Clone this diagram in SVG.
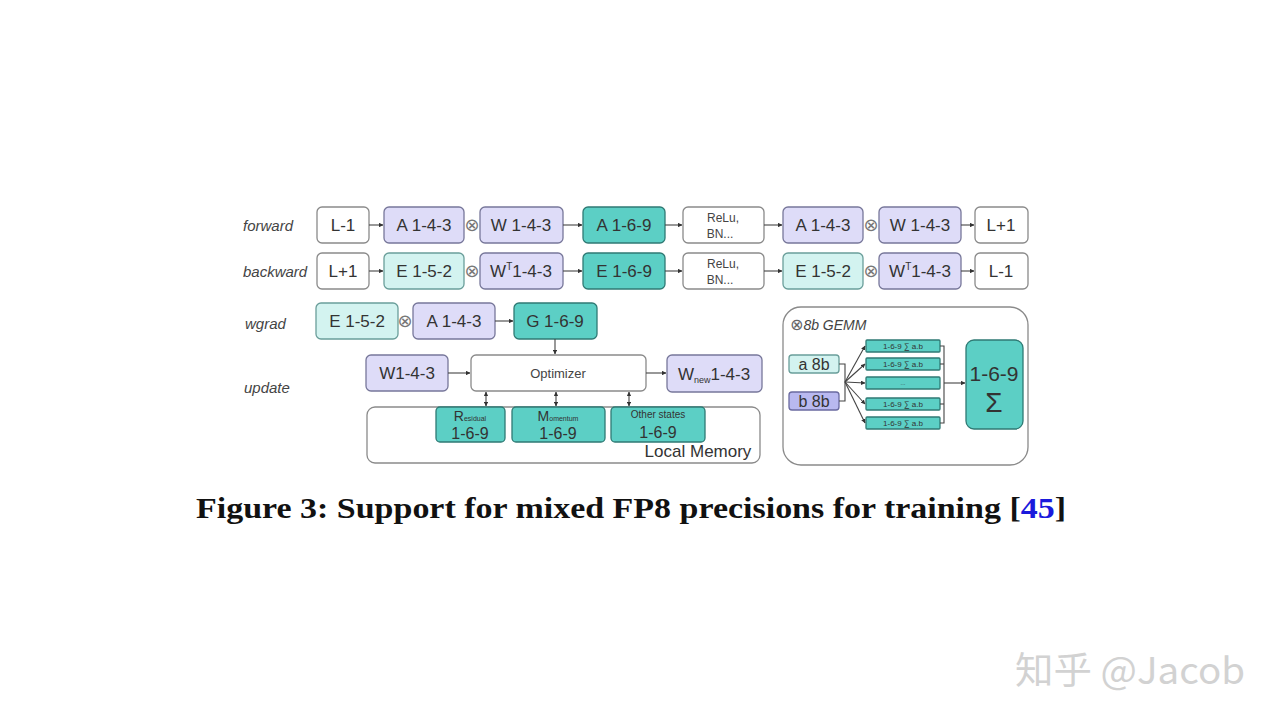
<svg xmlns="http://www.w3.org/2000/svg" width="1280" height="720" viewBox="0 0 1280 720">
<defs>
<marker id="ah" viewBox="0 0 6 6" refX="5.5" refY="3" markerWidth="4" markerHeight="4" orient="auto-start-reverse"><path d="M0,0 L6,3 L0,6 z" fill="#333"/></marker>
<style>
.w{fill:#ffffff;stroke:#8a8a8a;stroke-width:1.3}
.l{fill:#dedcf8;stroke:#77779a;stroke-width:1.3}
.c{fill:#d3f3f0;stroke:#6a9e9a;stroke-width:1.3}
.t{fill:#5ccfc5;stroke:#2f7a74;stroke-width:1.3}
.b{fill:#b9b9f0;stroke:#6a6aa0;stroke-width:1.3}
.tx{font-family:"Liberation Sans",Arial,sans-serif;fill:#333;text-anchor:middle}
.sm{font-family:"Liberation Sans",Arial,sans-serif;fill:#444;text-anchor:middle}
.lab{font-family:"Liberation Sans",Arial,sans-serif;font-style:italic;fill:#444}
.ox{font-family:"DejaVu Sans",sans-serif;font-size:18px;fill:#777;text-anchor:middle}
.bar{font-family:"Liberation Sans",Arial,sans-serif;fill:#333;text-anchor:middle}
.cn{stroke:#444;stroke-width:1.1;fill:none}
</style>
</defs>
<rect width="1280" height="720" fill="#ffffff"/>

<!-- row labels -->
<text class="lab" x="243" y="231" font-size="15">forward</text>
<text class="lab" x="243" y="277" font-size="15">backward</text>
<text class="lab" x="245" y="329" font-size="15">wgrad</text>
<text class="lab" x="244" y="393" font-size="15">update</text>

<!-- forward row -->
<g id="f-l1"><rect class="w" x="317" y="207" width="52" height="36" rx="5"/><text class="tx" x="343" y="231" font-size="17">L-1</text></g>
<g id="f-a143"><rect class="l" x="384" y="207" width="80" height="36" rx="5"/><text class="tx" x="424" y="231" font-size="17">A 1-4-3</text></g>
<g id="f-w143"><rect class="l" x="480" y="207" width="83" height="36" rx="5"/><text class="tx" x="521" y="231" font-size="17">W 1-4-3</text></g>
<g id="f-a169"><rect class="t" x="583" y="207" width="82" height="36" rx="5"/><text class="tx" x="624" y="231" font-size="17">A 1-6-9</text></g>
<g id="f-relu"><rect class="w" x="683" y="207" width="81" height="36" rx="5"/><text class="sm" x="723" y="222" font-size="12">ReLu,</text><text class="sm" x="720" y="238" font-size="12">BN...</text></g>
<g id="f-a143b"><rect class="l" x="783" y="207" width="80" height="36" rx="5"/><text class="tx" x="823" y="231" font-size="17">A 1-4-3</text></g>
<g id="f-w143b"><rect class="l" x="879" y="207" width="82" height="36" rx="5"/><text class="tx" x="920" y="231" font-size="17">W 1-4-3</text></g>
<g id="f-lp1"><rect class="w" x="975" y="207" width="53" height="36" rx="5"/><text class="tx" x="1001" y="231" font-size="17">L+1</text></g>

<!-- backward row -->
<g id="b-lp1"><rect class="w" x="317" y="253" width="52" height="36" rx="5"/><text class="tx" x="343" y="277" font-size="17">L+1</text></g>
<g id="b-e152"><rect class="c" x="384" y="253" width="80" height="36" rx="5"/><text class="tx" x="424" y="277" font-size="17">E 1-5-2</text></g>
<g id="b-wt143"><rect class="l" x="480" y="253" width="83" height="36" rx="5"/><text class="tx" x="521" y="277" font-size="17">W<tspan font-size="10" dy="-7">T</tspan><tspan dy="7">1-4-3</tspan></text></g>
<g id="b-e169"><rect class="t" x="583" y="253" width="82" height="36" rx="5"/><text class="tx" x="624" y="277" font-size="17">E 1-6-9</text></g>
<g id="b-relu"><rect class="w" x="683" y="253" width="81" height="36" rx="5"/><text class="sm" x="723" y="268" font-size="12">ReLu,</text><text class="sm" x="720" y="284" font-size="12">BN...</text></g>
<g id="b-e152b"><rect class="c" x="783" y="253" width="80" height="36" rx="5"/><text class="tx" x="823" y="277" font-size="17">E 1-5-2</text></g>
<g id="b-wt143b"><rect class="l" x="879" y="253" width="82" height="36" rx="5"/><text class="tx" x="920" y="277" font-size="17">W<tspan font-size="10" dy="-7">T</tspan><tspan dy="7">1-4-3</tspan></text></g>
<g id="b-l1"><rect class="w" x="975" y="253" width="53" height="36" rx="5"/><text class="tx" x="1001" y="277" font-size="17">L-1</text></g>

<!-- wgrad row -->
<g id="g-e152"><rect class="c" x="316" y="303" width="82" height="36" rx="5"/><text class="tx" x="357" y="327" font-size="17">E 1-5-2</text></g>
<g id="g-a143"><rect class="l" x="413" y="303" width="82" height="36" rx="5"/><text class="tx" x="454" y="327" font-size="17">A 1-4-3</text></g>
<g id="g-g169"><rect class="t" x="514" y="303" width="83" height="36" rx="5"/><text class="tx" x="555" y="327" font-size="17">G 1-6-9</text></g>

<!-- update row -->
<g id="local-memory"><rect class="w" x="367" y="407" width="393" height="56" rx="8"/><text class="tx" x="698" y="457" font-size="17">Local Memory</text></g>
<g id="u-w143"><rect class="l" x="366" y="355" width="82" height="36" rx="5"/><text class="tx" x="407" y="379" font-size="17">W1-4-3</text></g>
<g id="optimizer"><rect class="w" x="471" y="355" width="175" height="36" rx="5"/><text class="sm" x="558" y="378" font-size="13">Optimizer</text></g>
<g id="u-wnew"><rect class="l" x="667" y="355" width="95" height="37" rx="5"/><text class="tx" x="714" y="380" font-size="17">W<tspan font-size="9" dy="3">new</tspan><tspan dy="-3">1-4-3</tspan></text></g>
<g id="residual"><rect class="t" x="436" y="407" width="69" height="35" rx="4"/><text class="tx" x="470" y="421" font-size="14">R<tspan font-size="7">esidual</tspan></text><text class="tx" x="470" y="439" font-size="16">1-6-9</text></g>
<g id="momentum"><rect class="t" x="512" y="407" width="93" height="35" rx="4"/><text class="tx" x="558" y="421" font-size="14">M<tspan font-size="7">omentum</tspan></text><text class="tx" x="558" y="439" font-size="16">1-6-9</text></g>
<g id="other-states"><rect class="t" x="611" y="407" width="94" height="35" rx="4"/><text class="tx" x="658" y="418" font-size="10">Other states</text><text class="tx" x="658" y="438" font-size="16">1-6-9</text></g>

<!-- GEMM panel -->
<g id="gemm">
<rect class="w" x="783" y="307" width="245" height="158" rx="18"/>
<text class="lab" x="790" y="330" font-size="14"><tspan font-family="DejaVu Sans" font-style="normal" font-size="16" fill="#666">⊗</tspan>8b GEMM</text>
</g>
<g id="a8b"><rect class="c" x="789" y="355" width="50" height="18" rx="3"/><text class="tx" x="814" y="370" font-size="16">a 8b</text></g>
<g id="b8b"><rect class="b" x="789" y="392" width="50" height="18" rx="3"/><text class="tx" x="814" y="407" font-size="16">b 8b</text></g>
<g id="bar1"><rect class="t" x="866" y="340" width="74" height="12" rx="1"/><text class="bar" x="903" y="349" font-size="8">1-6-9 ∑ a.b</text></g>
<g id="bar2"><rect class="t" x="866" y="358" width="74" height="12" rx="1"/><text class="bar" x="903" y="367" font-size="8">1-6-9 ∑ a.b</text></g>
<g id="bar3"><rect class="t" x="866" y="377" width="74" height="12" rx="1"/><text class="bar" x="903" y="385" font-size="6">...</text></g>
<g id="bar4"><rect class="t" x="866" y="398" width="74" height="12" rx="1"/><text class="bar" x="903" y="407" font-size="8">1-6-9 ∑ a.b</text></g>
<g id="bar5"><rect class="t" x="866" y="417" width="74" height="12" rx="1"/><text class="bar" x="903" y="426" font-size="8">1-6-9 ∑ a.b</text></g>
<g id="sum"><rect class="t" x="966" y="340" width="57" height="89" rx="8"/><text class="tx" x="994" y="381" font-size="21">1-6-9</text><text class="tx" x="994" y="412" font-size="28" font-family="'Liberation Serif',serif">Σ</text></g>

<!-- ⊗ operators -->
<text class="ox" x="472" y="231">⊗</text>
<text class="ox" x="871" y="231">⊗</text>
<text class="ox" x="472" y="277">⊗</text>
<text class="ox" x="871" y="277">⊗</text>
<text class="ox" x="405" y="327">⊗</text>

<!-- connectors -->
<g id="connectors" class="cn">
<line x1="369" y1="225" x2="383" y2="225" marker-end="url(#ah)"/>
<line x1="563" y1="225" x2="582" y2="225" marker-end="url(#ah)"/>
<line x1="665" y1="225" x2="682" y2="225" marker-end="url(#ah)"/>
<line x1="764" y1="225" x2="782" y2="225" marker-end="url(#ah)"/>
<line x1="961" y1="225" x2="974" y2="225" marker-end="url(#ah)"/>
<line x1="369" y1="271" x2="383" y2="271" marker-end="url(#ah)"/>
<line x1="563" y1="271" x2="582" y2="271" marker-end="url(#ah)"/>
<line x1="665" y1="271" x2="682" y2="271" marker-end="url(#ah)"/>
<line x1="764" y1="271" x2="782" y2="271" marker-end="url(#ah)"/>
<line x1="961" y1="271" x2="974" y2="271" marker-end="url(#ah)"/>
<line x1="495" y1="321" x2="513" y2="321" marker-end="url(#ah)"/>
<line x1="555" y1="339" x2="555" y2="354" marker-end="url(#ah)"/>
<line x1="448" y1="373" x2="470" y2="373" marker-end="url(#ah)"/>
<line x1="646" y1="373" x2="666" y2="373" marker-end="url(#ah)"/>
<line x1="486" y1="392" x2="486" y2="406" marker-start="url(#ah)" marker-end="url(#ah)"/>
<line x1="556" y1="392" x2="556" y2="406" marker-start="url(#ah)" marker-end="url(#ah)"/>
<line x1="629" y1="392" x2="629" y2="406" marker-start="url(#ah)" marker-end="url(#ah)"/>
<polyline points="839,364 845,364 845,401 839,401"/>
<line x1="845" y1="382" x2="865" y2="346" marker-end="url(#ah)"/>
<line x1="845" y1="382" x2="865" y2="364" marker-end="url(#ah)"/>
<line x1="845" y1="382" x2="865" y2="383" marker-end="url(#ah)"/>
<line x1="845" y1="382" x2="865" y2="404" marker-end="url(#ah)"/>
<line x1="845" y1="382" x2="865" y2="423" marker-end="url(#ah)"/>
<polyline points="940,346 944,346 944,423 940,423"/>
<line x1="940" y1="364" x2="944" y2="364"/>
<line x1="940" y1="404" x2="944" y2="404"/>
<line x1="944" y1="383" x2="965" y2="383" marker-end="url(#ah)"/>
</g>

<!-- caption -->
<text x="196" y="518" font-family="'Liberation Serif','Times New Roman',serif" font-weight="bold" font-size="30" fill="#111" textLength="870" lengthAdjust="spacingAndGlyphs">Figure 3: Support for mixed FP8 precisions for training [<tspan fill="#1a1adc">45</tspan>]</text>

<!-- watermark -->
<text x="1015" y="684" font-family="'Noto Sans CJK SC','Liberation Sans',sans-serif" font-size="37" fill="#d2d2d2" textLength="230" lengthAdjust="spacingAndGlyphs">知乎 @Jacob</text>
</svg>
